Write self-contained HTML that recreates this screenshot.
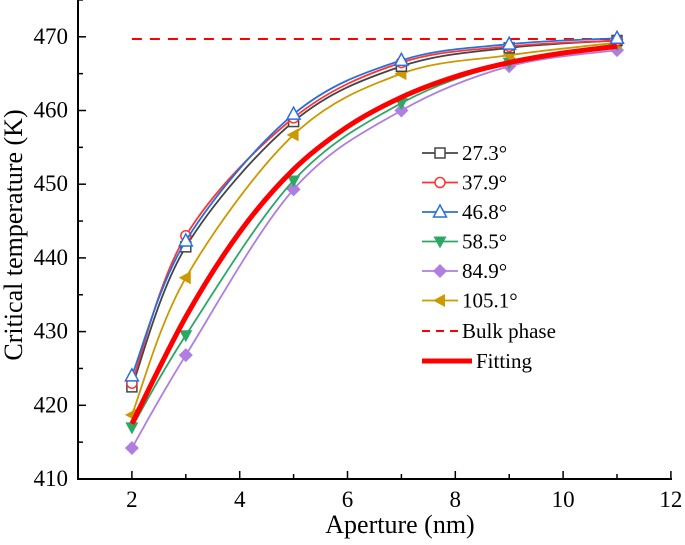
<!DOCTYPE html>
<html><head><meta charset="utf-8"><style>
body{margin:0;background:#fff}
svg, svg text{font-family:"Liberation Serif","Times New Roman",serif}
</style></head><body>
<svg id="c" width="685" height="540" xmlns="http://www.w3.org/2000/svg" font-family="Liberation Serif, serif"></svg>
<script>
const xs=[2,3,5,7,9,11];
const s273=[422.5,441.5,458.5,466,468.5,469.5];
const s379=[423,443,459,466.5,468.7,469.5];
const s468=[424,442.3,459.5,466.8,469,469.8];
const s585=[417,429.5,450.5,461,466.5,469];
const s849=[414.2,426.8,449.3,460,466,468.2];
const s1051=[418.7,437.3,456.7,465,467.5,469.2];
const fitX=[2,3,4,5,6,7,8,9,10,11];
const fitY=[417.5,432,443.5,452,457.8,461.8,464.6,466.5,467.8,468.7];
const bulk=469.7;
const xTicks=[2,4,6,8,10,12];
const yTicks=[410,420,430,440,450,460,470];
const labels=["27.3°","37.9°","46.8°","58.5°","84.9°","105.1°"];

const NS="http://www.w3.org/2000/svg";
const svg=document.getElementById('c');
const X=v=>78+(v-1)*53.9;
const Y=v=>479-(v-410)*7.37;
function el(t,a,p){const e=document.createElementNS(NS,t);for(const k in a)e.setAttribute(k,a[k]);if(t==='text')e.setAttribute('font-family','Liberation Serif, serif');(p||svg).appendChild(e);return e;}
function spline(px,py){
  const P=px.map((x,i)=>[X(x),Y(py[i])]);
  let d="M"+P[0][0]+","+P[0][1];
  for(let i=0;i<P.length-1;i++){
    const p0=P[Math.max(i-1,0)],p1=P[i],p2=P[i+1],p3=P[Math.min(i+2,P.length-1)];
    d+=" C"+(p1[0]+(p2[0]-p0[0])/6)+","+(p1[1]+(p2[1]-p0[1])/6)+" "+(p2[0]-(p3[0]-p1[0])/6)+","+(p2[1]-(p3[1]-p1[1])/6)+" "+p2[0]+","+p2[1];
  }
  return d;
}
function marker(type,x,y,color,g){
  let m;
  if(type==='sq')m=el('rect',{x:x-5,y:y-5,width:10,height:10,fill:'#fff',stroke:color,'stroke-width':1.5},g);
  else if(type==='ci')m=el('circle',{cx:x,cy:y,r:5,fill:'#fff',stroke:color,'stroke-width':1.5},g);
  else if(type==='tu')m=el('path',{d:`M${x},${y-7} L${x+6.5},${y+5} L${x-6.5},${y+5}Z`,fill:'#fff',stroke:color,'stroke-width':1.5},g);
  else if(type==='td')m=el('path',{d:`M${x-6.5},${y-5} L${x+6.5},${y-5} L${x},${y+7}Z`,fill:color},g);
  else if(type==='di')m=el('path',{d:`M${x},${y-7} L${x+7},${y} L${x},${y+7} L${x-7},${y}Z`,fill:color},g);
  else if(type==='tl')m=el('path',{d:`M${x-7},${y} L${x+5},${y-6.5} L${x+5},${y+6.5}Z`,fill:color},g);
  
  
}
const ax=el('g',{});

el('line',{x1:78,y1:0,x2:78,y2:480,stroke:'#000','stroke-width':2},ax);
el('line',{x1:77,y1:479,x2:672,y2:479,stroke:'#000','stroke-width':2},ax);
for(let v=1;v<=12;v++){
  const major=v%2===0;
  el('line',{x1:X(v),y1:479,x2:X(v),y2:major?471:474,stroke:'#000','stroke-width':1.5},ax);
}
xTicks.forEach(v=>{const t=el('text',{x:X(v),y:507,'font-size':23,'text-anchor':'middle'},ax);t.textContent=v;
});
for(let v=410;v<=475;v+=5){
  el('line',{x1:78,y1:Y(v),x2:v%10===0?86:83,y2:Y(v),stroke:'#000','stroke-width':1.5},ax);
}
yTicks.forEach(v=>{const t=el('text',{x:68,y:Y(v)+7,'font-size':23,'text-anchor':'end'},ax);t.textContent=v;
});
const xt=el('text',{x:400,y:533,'font-size':26,'text-anchor':'middle'});xt.textContent="Aperture  (nm)";

const yt=el('text',{x:0,y:0,'font-size':26,'text-anchor':'middle',transform:'translate(22,235) rotate(-90)'});yt.textContent="Critical temperature  (K)";


const bl=el('line',{x1:X(2),y1:Y(bulk),x2:X(11),y2:Y(bulk),stroke:'#f00','stroke-width':2,'stroke-dasharray':'10,8'});


const series=[[s273,'#444','sq'],[s379,'#f33','ci'],[s468,'#2a6fdb','tu'],[s585,'#2ca866','td'],[s849,'#b07ee0','di'],[s1051,'#cc9900','tl']];
const order=[4,3,5,0,1,2];
order.forEach(i=>{
  const [d,c,m]=series[i];
  const g=el('g',{});
  
  
  el('path',{d:spline(xs,d),fill:'none',stroke:c,'stroke-width':1.8},g);
  xs.forEach((x,j)=>marker(m,X(x),Y(d[j]),c,g));
});
const fp=el('path',{d:spline(fitX,fitY),fill:'none',stroke:'#f00','stroke-width':5});


const lg=el('g',{});

series.forEach((s,i)=>{
  const y=153+i*29.5;
  const g=el('g',{},lg);
  
  el('line',{x1:422,y1:y,x2:458,y2:y,stroke:s[1],'stroke-width':1.8},g);
  marker(s[2],440,y,s[1],g);
  const t=el('text',{x:462,y:y+7,'font-size':21},g);t.textContent=labels[i];
});
[['Bulk phase',331],['Fitting',361]].forEach(([n,y],i)=>{
  const g=el('g',{},lg);
  
  if(i===0)el('line',{x1:422,y1:y,x2:458,y2:y,stroke:'#f00','stroke-width':2,'stroke-dasharray':'8,6'},g);
  else el('line',{x1:422,y1:y,x2:472,y2:y,stroke:'#f00','stroke-width':5},g);
  const t=el('text',{x:i===0?462:476,y:y+7,'font-size':21},g);t.textContent=n;
});
</script>
</body></html>
